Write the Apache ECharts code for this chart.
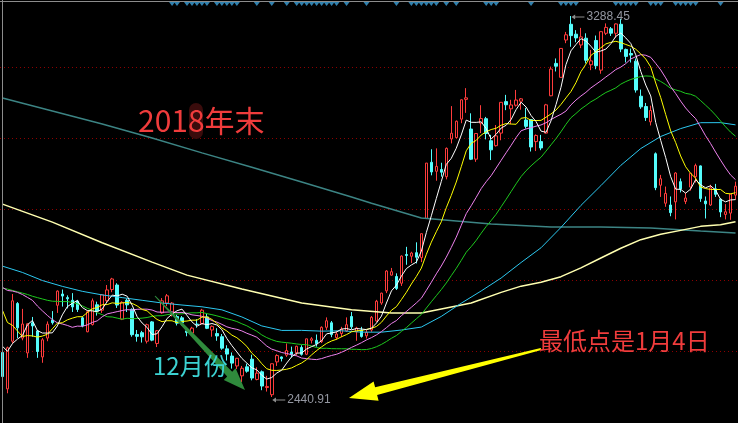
<!DOCTYPE html>
<html><head><meta charset="utf-8">
<script src="https://cdn.jsdelivr.net/npm/echarts@6/dist/echarts.min.js"></script>
<style>html,body{margin:0;padding:0;background:#000;}#c{width:738px;height:423px;}</style>
</head><body><div id="c"></div>
<script>
// trading days (SSE Composite, 2018-10-18 .. 2019-05-28)
const dates = ['2018-10-18','2018-10-19','2018-10-22','2018-10-23','2018-10-24','2018-10-25','2018-10-26','2018-10-29','2018-10-30','2018-10-31',
'2018-11-01','2018-11-02','2018-11-05','2018-11-06','2018-11-07','2018-11-08','2018-11-09','2018-11-12','2018-11-13','2018-11-14','2018-11-15','2018-11-16','2018-11-19','2018-11-20','2018-11-21','2018-11-22','2018-11-23','2018-11-26','2018-11-27','2018-11-28','2018-11-29','2018-11-30',
'2018-12-03','2018-12-04','2018-12-05','2018-12-06','2018-12-07','2018-12-10','2018-12-11','2018-12-12','2018-12-13','2018-12-14','2018-12-17','2018-12-18','2018-12-19','2018-12-20','2018-12-21','2018-12-24','2018-12-25','2018-12-26','2018-12-27','2018-12-28',
'2019-01-02','2019-01-03','2019-01-04','2019-01-07','2019-01-08','2019-01-09','2019-01-10','2019-01-11','2019-01-14','2019-01-15','2019-01-16','2019-01-17','2019-01-18','2019-01-21','2019-01-22','2019-01-23','2019-01-24','2019-01-25','2019-01-28','2019-01-29','2019-01-30','2019-01-31',
'2019-02-01','2019-02-11','2019-02-12','2019-02-13','2019-02-14','2019-02-15','2019-02-18','2019-02-19','2019-02-20','2019-02-21','2019-02-22','2019-02-25','2019-02-26','2019-02-27','2019-02-28',
'2019-03-01','2019-03-04','2019-03-05','2019-03-06','2019-03-07','2019-03-08','2019-03-11','2019-03-12','2019-03-13','2019-03-14','2019-03-15','2019-03-18','2019-03-19','2019-03-20','2019-03-21','2019-03-22','2019-03-25','2019-03-26','2019-03-27','2019-03-28','2019-03-29',
'2019-04-01','2019-04-02','2019-04-03','2019-04-04','2019-04-08','2019-04-09','2019-04-10','2019-04-11','2019-04-12','2019-04-15','2019-04-16','2019-04-17','2019-04-18','2019-04-19','2019-04-22','2019-04-23','2019-04-24','2019-04-25','2019-04-26','2019-04-29','2019-04-30',
'2019-05-06','2019-05-07','2019-05-08','2019-05-09','2019-05-10','2019-05-13','2019-05-14','2019-05-15','2019-05-16','2019-05-17','2019-05-20','2019-05-21','2019-05-22','2019-05-23','2019-05-24','2019-05-27','2019-05-28'];

// [open, close, low, high]
const ohlc = [
[2540,2486.4,2482,2546],[2459,2550.5,2449.2,2553],[2565,2654.9,2560,2670],[2649,2594.8,2572,2652],[2572,2603.3,2567,2637],
[2539,2603.8,2528,2605],[2606,2598.9,2575,2619],[2588,2542.1,2528,2590],[2530,2568.1,2517,2572],[2572,2602.8,2565,2609],
[2612,2606.2,2602,2632],[2645,2676.5,2628,2678],[2670,2665.4,2642,2680],[2662,2659.4,2638,2667],[2656,2641.3,2630,2672],
[2654,2635.6,2630,2657],[2617,2598.9,2596,2620],[2586,2630.5,2585,2633],[2602,2654.9,2600,2660],[2646,2632.2,2622,2653],
[2634,2668.2,2628,2670],[2655,2679.1,2652,2690],[2680,2703.5,2674,2706],[2690,2645.4,2639,2694],[2614,2651.5,2612,2654],
[2656,2645.9,2630,2660],[2636,2579.5,2575,2638],[2580,2575.8,2564,2590],[2584,2574.7,2562,2588],[2565,2601.7,2560,2604],
[2608,2567.4,2565,2610],[2560,2588.2,2552,2590],[2628,2654.8,2626,2661],[2650,2666.0,2643,2670],[2627,2649.8,2620,2652],
[2620,2605.2,2600,2624],[2617,2605.9,2600,2621],[2588,2584.6,2576,2593],[2583,2594.1,2581,2597],[2603,2602.2,2595,2614],
[2604,2634.1,2603,2637],[2619,2593.7,2592,2626],[2590,2598.0,2575,2600],[2582,2576.7,2566,2594],[2575,2549.6,2546,2581],
[2548,2536.3,2522,2556],[2532,2516.3,2504,2540],[2510,2527.0,2503,2528],[2488,2504.8,2474,2510],[2508,2498.3,2495,2515],
[2525,2483.1,2478,2535],[2480,2493.9,2478,2507],[2497,2465.3,2456,2500],[2462,2464.4,2453,2488],[2446,2514.9,2440.91,2515.3],
[2519,2533.1,2510,2536],[2530,2526.5,2520,2531],[2534,2544.3,2530,2560],[2541,2535.1,2529,2553],[2539,2553.8,2533,2555],
[2551,2535.8,2533,2556],[2536,2570.3,2534,2571],[2567,2570.4,2560,2574],[2567,2559.6,2553,2580],[2564,2596.0,2561,2598],
[2596,2610.5,2590,2618],[2606,2579.7,2574,2610],[2573,2581.0,2568,2588],[2582,2591.7,2574,2597],[2588,2601.7,2586,2618],
[2620,2597.0,2592,2630],[2586,2594.3,2566,2597],[2590,2575.6,2573,2597],[2577,2584.6,2571,2590],[2590,2618.2,2586,2621],
[2610,2653.9,2608,2657],[2650,2671.9,2646,2673],[2677,2721.1,2672,2723],[2712,2719.7,2711,2728],[2709,2682.4,2679,2716],
[2694,2754.4,2688,2756],[2758,2755.7,2735,2775],[2754,2761.2,2739,2764],[2762,2751.8,2738,2785],[2751,2804.2,2741,2804.5],
[2838,2961.3,2837,2961.5],[2963,2941.5,2934,2992],[2943,2953.8,2922,2994],[2947,2941.0,2931,2962],[2931,2994.0,2925,2996],
[3015,3027.6,3005,3088],[3018,3054.3,3016,3056],[3059,3102.1,3050,3103],[3103,3106.4,3073,3128],[3037,2969.9,2968,3072],
[2970,3027.0,2964,3028],[3050,3060.3,3028,3090],[3060,3027.0,3014,3064],[3011,2990.7,2968,3024],[3000,3021.8,2998,3046],
[3028,3096.4,3012,3097],[3098,3091.0,3079,3113],[3082,3090.6,3048,3102],[3090,3101.5,3087,3124],[3099,3104.2,3080,3106],
[3057,3043.0,3038,3084],[3058,2997.1,2987,3059],[3009,3022.7,2988,3025],[3009,2994.9,2990,3024],[3028,3090.8,3027,3093],
[3111,3170.4,3110,3176],[3183,3176.8,3165,3194],[3152,3216.3,3151,3217],[3235,3246.6,3228,3253],[3270,3244.8,3220,3288.45],
[3248,3239.7,3230,3257],[3224,3241.9,3217,3262],[3239,3190.0,3183,3250],[3180,3188.6,3168,3213],[3234,3177.8,3170,3245],
[3168,3253.6,3160,3254],[3250,3263.1,3246,3272],[3260,3250.2,3244,3264],[3250,3270.8,3240,3272],[3270,3215.0,3208,3282],
[3214,3198.6,3185,3216],[3205,3201.6,3185,3216],[3188,3123.8,3118,3194],[3110,3086.4,3082,3125],[3087,3062.5,3055,3095],
[3053,3078.3,3045,3089],[2982,2906.5,2901,2985],[2912,2926.4,2886,2935],[2872,2893.8,2864,2909],[2868,2851.0,2843,2887],
[2875,2939.2,2836,2941],[2920,2903.7,2896,2927],[2876,2883.6,2870,2895],[2908,2938.7,2900,2939],[2931,2955.7,2918,2960],
[2955,2882.3,2875,2956],[2877,2870.6,2838,2887],[2868,2906.0,2866,2913],[2904,2891.7,2886,2915],[2881,2852.5,2841,2883],
[2847,2853.0,2836,2870],[2850,2892.4,2835,2893],[2890,2909.9,2880,2920]];

const ma5 = [2553.8,2542.4,2559.8,2569.6,2577.8,2601.4,2611.2,2588.6,2583.2,2583.2,
2583.6,2599.0,2623.6,2641.8,2649.4,2655.4,2640.0,2633.2,2632.4,2630.6,
2637.0,2653.0,2667.6,2665.6,2669.6,2665.2,2645.2,2619.6,2605.6,2595.6,
2579.8,2581.6,2597.4,2615.6,2625.2,2632.8,2636.4,2622.4,2608.0,2598.4,
2604.2,2601.8,2604.4,2601.0,2590.6,2571.0,2555.4,2541.2,2526.8,2516.4,
2505.8,2501.4,2489.0,2480.8,2484.2,2494.2,2500.6,2516.4,2530.6,2538.4,
2539.0,2547.8,2553.0,2558.0,2566.4,2581.4,2583.4,2585.6,2592.0,2593.2,
2590.4,2593.2,2592.2,2590.8,2594.0,2605.4,2621.0,2650.0,2677.0,2689.8,
2709.8,2726.6,2734.6,2741.0,2765.4,2806.8,2844.0,2882.6,2920.4,2958.4,
2971.8,2994.2,3023.8,3056.8,3052.0,3051.8,3053.0,3038.0,3015.0,3025.4,
3039.2,3045.4,3058.2,3080.2,3096.6,3086.0,3067.2,3053.6,3032.4,3029.8,
3055.2,3091.2,3129.8,3180.2,3211.0,3225.0,3238.0,3232.8,3221.2,3207.8,
3210.6,3214.8,3226.8,3243.2,3250.6,3239.6,3227.4,3202.2,3165.2,3134.8,
3110.6,3051.4,3011.8,2973.4,2931.0,2903.2,2902.8,2894.4,2903.4,2924.4,
2913.0,2906.4,2910.8,2901.4,2880.8,2875.0,2879.2,2880.0];

const ma10 = [2633.7,2606.6,2600.4,2587.8,2575.5,2577.6,2576.8,2574.2,2576.4,2580.5,
2592.5,2605.1,2606.1,2612.5,2616.3,2619.5,2619.5,2628.4,2637.1,2640.0,
2646.2,2646.5,2650.4,2649.0,2650.1,2651.1,2649.1,2643.6,2635.6,2632.6,
2622.5,2613.4,2608.5,2610.6,2610.4,2606.3,2609.0,2609.9,2611.8,2611.8,
2618.5,2619.1,2613.4,2604.5,2594.5,2587.6,2578.6,2572.8,2563.9,2553.5,
2538.4,2528.4,2515.1,2503.8,2500.3,2500.0,2501.0,2502.7,2505.7,2511.3,
2516.6,2524.2,2534.7,2544.3,2552.4,2560.2,2565.6,2569.3,2575.0,2579.8,
2585.9,2588.3,2588.9,2591.4,2593.6,2597.9,2607.1,2621.1,2633.9,2641.9,
2657.6,2673.8,2692.3,2709.0,2727.6,2758.3,2785.3,2808.6,2830.7,2861.9,
2889.3,2919.1,2953.2,2988.6,3005.2,3011.8,3023.6,3030.9,3035.9,3038.7,
3045.5,3049.2,3048.1,3047.6,3061.0,3062.6,3056.3,3055.9,3056.3,3063.2,
3070.6,3079.2,3091.7,3106.3,3120.4,3140.1,3164.6,3181.3,3200.7,3209.4,
3217.8,3226.4,3229.8,3232.2,3229.2,3225.1,3221.1,3214.5,3204.2,3192.7,
3175.1,3139.4,3107.0,3069.3,3032.9,3006.9,2977.1,2953.1,2938.4,2927.7,
2908.1,2904.6,2902.6,2902.4,2902.6,2894.0,2892.8,2895.4];

const ma20 = [2684.8,2677.9,2676.6,2673.7,2668.9,2662.5,2656.0,2643.3,2632.6,2622.4,
2613.1,2605.9,2603.3,2600.2,2595.9,2598.6,2598.2,2601.3,2606.8,2610.3,
2619.4,2625.8,2628.3,2630.8,2633.2,2635.3,2634.3,2636.0,2636.4,2636.3,
2634.4,2630.0,2629.5,2629.8,2630.3,2628.7,2629.1,2626.8,2623.7,2622.2,
2620.5,2616.3,2611.0,2607.6,2602.5,2597.0,2593.8,2591.4,2587.9,2582.7,
2578.5,2573.8,2564.3,2554.2,2547.4,2543.8,2539.8,2537.8,2534.8,2532.4,
2527.5,2526.3,2524.9,2524.1,2526.4,2530.1,2533.3,2536.0,2540.4,2545.6,
2551.3,2556.3,2561.8,2567.9,2573.0,2579.1,2586.4,2595.2,2604.5,2610.9,
2621.8,2631.1,2640.6,2650.2,2660.6,2678.1,2696.2,2714.9,2732.3,2751.9,
2773.5,2796.5,2822.8,2848.8,2866.4,2885.1,2904.5,2919.8,2933.3,2950.3,
2967.4,2984.2,3000.7,3018.1,3033.1,3037.2,3040.0,3043.4,3046.1,3051.0,
3058.1,3064.2,3069.9,3077.0,3090.7,3101.4,3110.5,3118.6,3128.5,3136.3,
3144.2,3152.8,3160.8,3169.3,3174.8,3182.6,3192.9,3197.9,3202.5,3201.1,
3196.5,3182.9,3168.4,3150.8,3131.1,3116.0,3099.1,3083.8,3071.3,3060.2,
3041.6,3022.0,3004.8,2985.9,2967.8,2950.5,2935.0,2924.3];

const ma30 = [2683,2681,2678,2675,2672,2669,2665,2662,2659,2656,
2654.0,2653.6,2653.1,2653.3,2651.3,2648.2,2643.8,2638.3,2634.1,2628.3,
2624.1,2619.4,2619.0,2616.4,2614.0,2616.1,2615.1,2615.4,2616.4,2617.7,
2620.4,2621.7,2621.7,2624.0,2625.6,2625.6,2625.9,2627.3,2628.2,2628.1,
2629.1,2626.3,2624.1,2621.4,2618.3,2615.0,2612.2,2608.8,2603.8,2599.3,
2593.1,2587.0,2579.0,2573.0,2568.4,2564.6,2562.9,2561.8,2560.5,2558.9,
2557.8,2557.2,2554.4,2550.9,2549.1,2549.3,2548.4,2548.3,2548.2,2548.2,
2547.0,2547.0,2546.2,2546.5,2548.8,2552.7,2557.9,2564.4,2571.5,2577.7,
2586.7,2595.4,2605.3,2614.9,2624.5,2638.8,2652.7,2666.3,2679.9,2694.5,
2710.9,2727.1,2744.8,2763.0,2775.5,2789.3,2805.3,2820.2,2833.5,2847.5,
2864.1,2880.7,2897.9,2915.1,2931.3,2944.2,2955.1,2965.1,2974.3,2987.9,
3001.8,3015.8,3031.0,3047.5,3062.2,3071.5,3081.5,3089.4,3097.6,3103.8,
3111.3,3118.3,3123.2,3128.7,3136.9,3142.6,3147.3,3150.6,3153.7,3155.1,
3154.5,3148.3,3142.8,3135.9,3127.5,3124.0,3120.9,3116.3,3114.4,3109.9,
3100.3,3090.1,3079.8,3068.0,3054.9,3042.0,3030.3,3021.0];

// slower averages read at sample days: [dayIndex, value]
const ma60 = [[0,2732],[4,2718],[8,2700],[12,2687],[16,2676],[20,2668],[24,2662],[28,2656],[32,2650],[36,2645.5],[40,2641.6],[44,2634.8],[48,2619.0],[52,2599.0],[56,2589.0],[60,2589.1],[64,2587.4],[68,2588.2],[72,2585.2],[76,2585.1],[80,2589.9],[84,2596.5],[88,2620.2],[92,2649.6],[96,2676.8],[100,2705.6],[104,2740.1],[108,2772.9],[112,2818.2],[116,2867.1],[120,2911.1],[124,2956.2],[128,2993.6],[132,3020.4],[136,3038.0],[140,3051.1],[144,3051.2],[147,3046.3]];
const ma120 = [[0,2870],[10,2830],[20,2784],[30,2741],[37,2712],[48,2681],[60,2650],[70,2635],[78,2628],[84,2628],[94,2650],[100,2673.6],[104,2687.5],[108,2696.0],[112,2708.6],[116,2728.1],[120,2750.1],[124,2771.8],[128,2790.9],[132,2802.8],[136,2811.6],[140,2820.5],[144,2823.9],[147,2830.9]];
const ma250 = [[0,3106],[10,3077],[20,3048],[30,3017],[40,2984],[50,2952],[60,2919],[70,2886],[74,2872],[84,2839],[98,2826],[110,2819],[120,2819],[130,2817],[140,2810],[147,2806]];

// days carrying an info marker at the top edge
const newsDays = [34,35,37,38,39,40,41,43,44,45,46,47,51,54,57,59,60,61,62,63,64,65,66,67,69,73,79,82,83,84,85,86,87,89,91,97,98,99,106,112,113,114,115,123,124,125,126,127,130,131,132,135,136,137,138,139,144];

const Y_MIN = 2385.3, Y_MAX = 3324.04, GRID_STEP = 157.9;

let hiIdx = 0, loIdx = 0;
ohlc.forEach((d, i) => { if (d[3] > ohlc[hiIdx][3]) hiIdx = i; if (d[2] < ohlc[loIdx][2]) loIdx = i; });

const chart = echarts.init(document.getElementById('c'), null, {renderer: 'canvas'});

function maLine(name, data, color, width) {
  return {type: 'line', name, data, showSymbol: false, symbol: 'none', connectNulls: true, silent: true,
    lineStyle: {color, width: width || 1}, z: 4, animation: false};
}
const arrowSym = 'path://M0,3 L4,0 L4,2.5 L14,2.5 L14,3.5 L4,3.5 L4,6 Z';
function extremeLabel(idx, val, dy) {
  return {type: 'scatter', data: [[idx, val]], symbol: arrowSym, symbolSize: [13, 5], symbolOffset: [7, dy],
    itemStyle: {color: '#b0b0b0'}, silent: true, z: 6, animation: false,
    label: {show: true, position: 'right', distance: 2, formatter: p => p.value[1].toFixed(2),
      color: '#b8bcc8', fontSize: 12, fontFamily: 'Liberation Sans'}};
}

chart.setOption({
  backgroundColor: '#000000',
  animation: false,
  grid: {left: -1, right: -1, top: 0, bottom: 1},
  xAxis: {type: 'category', data: dates, boundaryGap: true, show: false},
  yAxis: {type: 'value', min: Y_MIN, max: Y_MAX, interval: GRID_STEP, scale: true,
    axisLabel: {show: false}, axisLine: {show: false}, axisTick: {show: false},
    splitLine: {show: true, showMinLine: false, showMaxLine: false, lineStyle: {color: '#8c0000', type: [1, 3], width: 1}}},
  series: [
    {type: 'candlestick', data: ohlc.map(d => [d[0], d[1], d[2], d[3]]), barWidth: 3, z: 3, silent: true,
      itemStyle: {color: '#000000', color0: '#54fcfc', borderColor: '#ff3c3c', borderColor0: '#54fcfc', borderWidth: 1}},
    maLine('MA250', ma250, '#3c8484', 1.5),
    maLine('MA120', ma120, '#ffffb0', 1.5),
    maLine('MA60', ma60, '#2cc8f0'),
    maLine('MA30', ma30, '#1ec81e'),
    maLine('MA20', ma20, '#ee82ee'),
    maLine('MA10', ma10, '#ffff00'),
    maLine('MA5', ma5, '#ffffff'),
    {type: 'scatter', data: newsDays.map(k => [k, Y_MAX]), symbol: 'triangle', symbolRotate: 180,
      symbolSize: [6, 4], symbolOffset: [0, 4], itemStyle: {color: '#3ca0d8'}, silent: true, z: 5},
    extremeLabel(hiIdx, ohlc[hiIdx][3], 1),
    extremeLabel(loIdx, ohlc[loIdx][2], 3)
  ],
  graphic: [
    {type: 'line', shape: {x1: 0, y1: 1.5, x2: 738, y2: 1.5}, style: {stroke: '#8c8c8c', lineWidth: 1}, z: 50},
    {type: 'line', shape: {x1: 2.5, y1: 0, x2: 2.5, y2: 423}, style: {stroke: '#8c8c8c', lineWidth: 1}, z: 50},
    {type: 'rect', shape: {x: 189, y: 103, width: 14, height: 36, r: 7}, style: {fill: '#3a0c0c'}, z: 40},
    {type: 'text', x: 138, y: 121, style: {text: '2018年末', font: '30px "Noto Sans CJK SC"', fill: '#f03c3c', verticalAlign: 'middle'}, z: 60},
    {type: 'polygon', shape: {points: [[154.6,296.3],[227.2,376.4],[223.8,379.9],[245,390],[235.6,368.2],[232.2,371.7],[155.4,295.7]]},
      style: {fill: '#2f8a3c'}, z: 55},
    {type: 'text', x: 153, y: 366, style: {text: '12月份', font: '24px "Noto Sans CJK SC"', fill: '#3cd2d2', verticalAlign: 'middle'}, z: 60},
    {type: 'polygon', shape: {points: [[540.75,348.03],[375.1,387.2],[373.6,381.4],[349,398],[378.6,400.8],[377.1,395.0],[541.25,349.97]]},
      style: {fill: '#ffff00'}, z: 55},
    {type: 'text', x: 539, y: 341, style: {text: '最低点是1月4日', font: '24px "Noto Sans CJK SC"', fill: '#f03c3c', verticalAlign: 'middle'}, z: 60}
  ]
});
</script>
</body></html>
